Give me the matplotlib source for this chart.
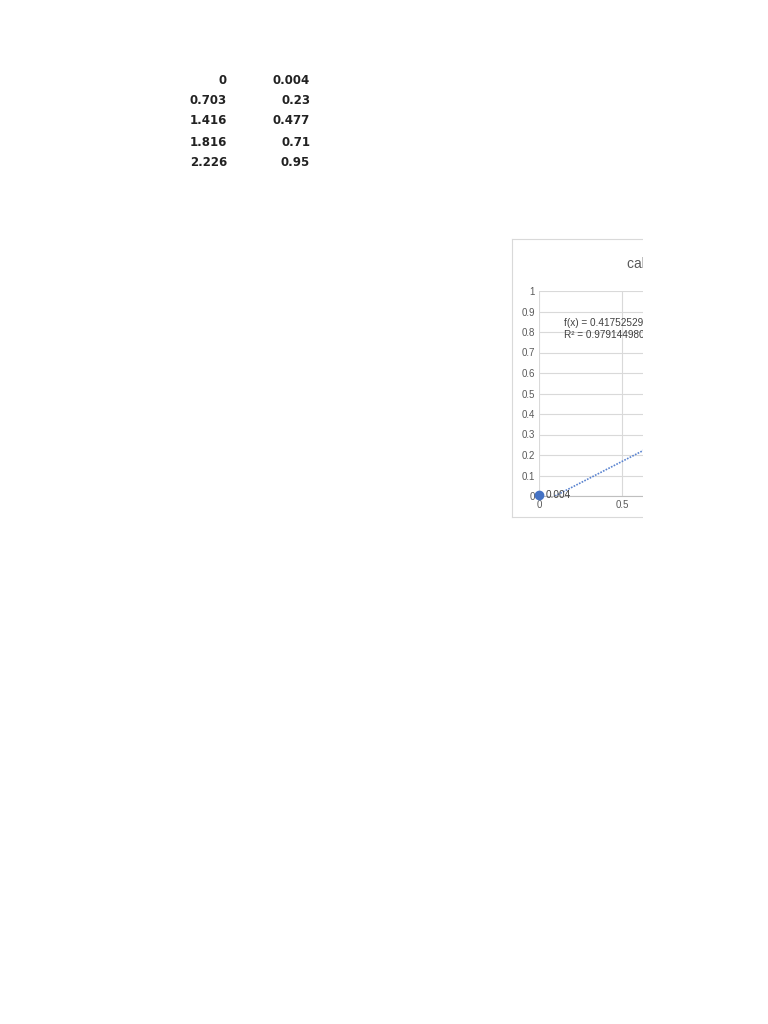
import numpy as np
import matplotlib.pyplot as plt
from matplotlib.patches import Rectangle
from matplotlib.lines import Line2D

# spreadsheet cells
conc = [0, 0.703, 1.416, 1.816, 2.226]
absorb = [0.004, 0.23, 0.477, 0.71, 0.95]
col1_text = ['0', '0.703', '1.416', '1.816', '2.226']
col2_text = ['0.004', '0.23', '0.477', '0.71', '0.95']
chart_title = 'calibration curve'

W, H = 768, 1024
fig = plt.figure(figsize=(W / 100, H / 100), dpi=100)
fig.patch.set_facecolor('white')

def fx(px):
    return px / W

def fy(py):
    return 1 - py / H

# table cells
rows_y = [80, 101, 121, 142, 163]
for ty, a, b in zip(rows_y, col1_text, col2_text):
    fig.text(fx(227), fy(ty), a, ha='right', va='center', fontsize=8.5,
             family='DejaVu Sans', color='#222222', fontweight='semibold')
    fig.text(fx(310), fy(ty), b, ha='right', va='center', fontsize=8.5,
             family='DejaVu Sans', color='#222222', fontweight='semibold')

# chart (gets cut off at the page column edge)
x0, x_half = 539, 622
unit_x = (x_half - x0) / 0.5
y0, y1 = 496, 291
xmax = (W - x0) / unit_x  # axes stop at the figure edge
ax = fig.add_axes([fx(x0), fy(y0), (W - x0) / W, (y0 - y1) / H])
ax.set_xlim(0, xmax)
ax.set_ylim(0, 1)
for s in ['top', 'right', 'left']:
    ax.spines[s].set_visible(False)
ax.spines['bottom'].set_color('#bfbfbf')
ax.spines['bottom'].set_linewidth(0.8)
ax.set_xticks([0, 0.5, 1])
ax.set_xticklabels(['0', '0.5', '1'])
ax.set_yticks(np.arange(0, 1.01, 0.1))
ax.set_yticklabels(['0', '0.1', '0.2', '0.3', '0.4', '0.5', '0.6', '0.7', '0.8', '0.9', '1'])
ax.tick_params(length=0, labelsize=7, labelcolor='#595959', pad=3)
for t in ax.get_xticklabels() + ax.get_yticklabels():
    t.set_family('Liberation Sans')
ax.grid(True, color='#d9d9d9', linewidth=0.8)
ax.set_axisbelow(True)

slope, icpt = np.polyfit(conc, absorb, 1)
r2 = np.corrcoef(conc, absorb)[0, 1] ** 2
xs = np.array([0, xmax])
ax.plot(xs, slope * xs + icpt, color='#5b84d0', lw=1.2, ls=(0, (1, 0.8)))
ax.plot(conc, absorb, 'o', color='#4472c4', ms=6, clip_on=False, zorder=5)
for cx, cy in zip(conc, absorb):
    ax.annotate(f'{cy:g}', (cx, cy), xytext=(5, 0), textcoords='offset points',
                fontsize=7.2, color='#404040', va='center', family='Liberation Sans',
                annotation_clip=True)

fig.text(fx(564), fy(323), f'f(x) = {slope:.9f}x − {abs(icpt):.6f}', fontsize=7.2,
         color='#404040', va='center', family='Liberation Sans')
fig.text(fx(564), fy(335), f'R² = {r2:.9f}', fontsize=7.2,
         color='#404040', va='center', family='Liberation Sans')
fig.text(fx(627), fy(264), chart_title, fontsize=10, color='#595959',
         va='center', family='Liberation Sans')

# chart frame
bc = '#d9d9d9'
fig.add_artist(Line2D([fx(512), fx(643)], [fy(239), fy(239)], color=bc, lw=0.8))
fig.add_artist(Line2D([fx(512), fx(643)], [fy(517), fy(517)], color=bc, lw=0.8))
fig.add_artist(Line2D([fx(512), fx(512)], [fy(239), fy(517)], color=bc, lw=0.8))

# page cut-off
fig.add_artist(Rectangle((fx(643), fy(530)), 1, (530 - 230) / H,
                         transform=fig.transFigure, facecolor='white',
                         edgecolor='none', zorder=20))

fig.savefig('out.png', dpi=100)
